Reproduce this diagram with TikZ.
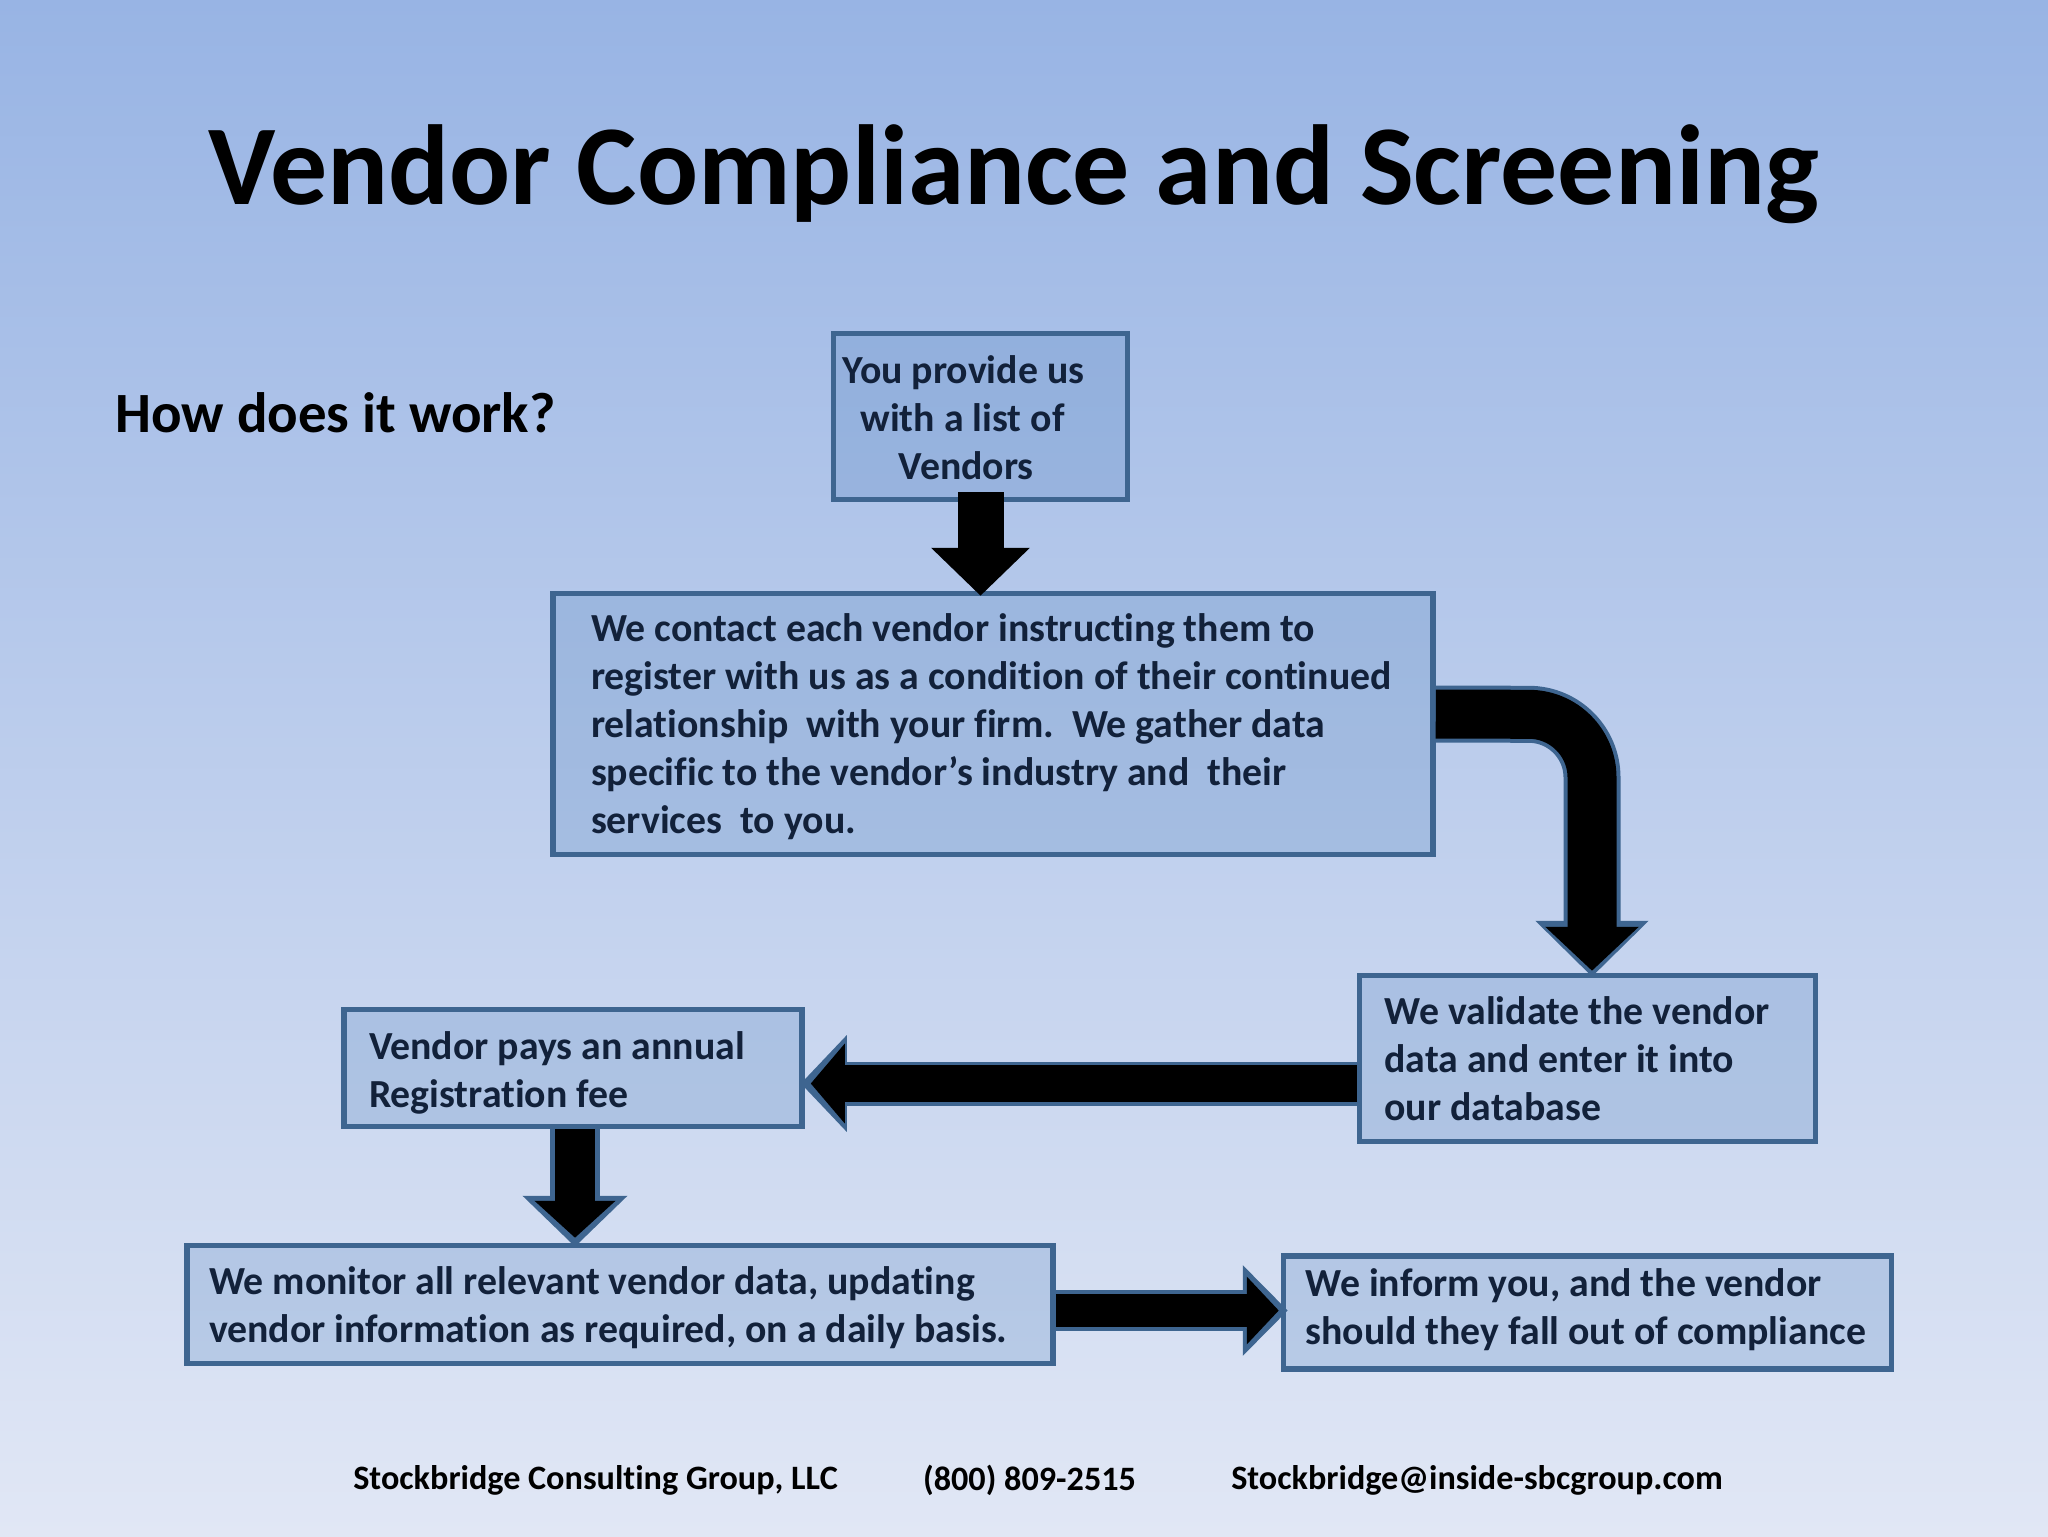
\documentclass[tikz,border=0pt]{standalone}
\usepackage{fontspec}
\setmainfont{Carlito}[Ligatures=NoCommon]
\usetikzlibrary{arrows.meta}
\definecolor{boxedge}{HTML}{3E6590}
\definecolor{boxfill}{HTML}{4F81BD}
\definecolor{boxtext}{HTML}{12213A}
\definecolor{pagetop}{RGB}{152,180,228}
\definecolor{pagemid}{RGB}{195,212,240}
\definecolor{pagelow}{RGB}{225,231,245}
\tikzset{
  stepbox/.style n args={4}{draw=boxedge, line width=2.75pt, fill=boxfill, fill opacity=.24,
    text opacity=1, text=boxtext, font=\bfseries\fontsize{19.9}{24}\selectfont, align=flush left,
    minimum height=#1, text width=#2, inner xsep=#3, execute at end node={\par\vspace*{-#4}}},
  pipeedge/.style n args={4}{boxedge, line width=#1, -{Triangle[length=#2,width=#3]}, shorten >=#4},
  pipecore/.style n args={4}{black, line width=#1, -{Triangle[length=#2,width=#3]}, shorten >=#4},
}
\begin{document}
\begin{tikzpicture}[x=.5pt,y=-.5pt]
  \shade[top color=pagetop, middle color=pagemid, bottom color=pagelow] (0,0) rectangle (2048,1536);
  \path
    (1014,174) node[font=\bfseries\fontsize{56.9}{68}\selectfont] (title){Vendor Compliance and Screening}
    (335.5,413) node[font=\bfseries\fontsize{28.45}{34}\selectfont] (how){How does it work?}
    (980.5,416.5) node[stepbox={83pt}{138pt}{4.5pt}{.8pt}] (list){You provide us\\\hspace*{9pt}with a list of\\\hspace*{28pt}Vendors}
    (993,724) node[stepbox={130.5pt}{402pt}{19pt}{2.6pt}] (contact){We contact each vendor instructing them to\\register with us as a condition of their continued\\relationship\ \ with your firm.\ \ We gather data\\specific to the vendor’s industry and\ \ their\\services\ \ to you.}
    (1587.5,1058.5) node[stepbox={83pt}{203pt}{12.5pt}{0pt}] (validate){We validate the vendor\\data and enter it into\\our database}
    (573,1068) node[stepbox={58.5pt}{204pt}{12.5pt}{4.6pt}] (fee){Vendor pays an annual\\Registration fee}
    (620,1304.5) node[stepbox={59pt}{411pt}{11pt}{3.2pt}] (monitor){We monitor all relevant vendor data, updating\\vendor information as required, on a daily basis.}
    (1587.5,1312.5) node[stepbox={56.5pt}{282pt}{11pt}{-2.6pt}] (inform){We inform you, and the vendor\\should they fall out of compliance}
    (595.5,1480) node[font=\bfseries\fontsize{17.1}{21}\selectfont] (firm){Stockbridge Consulting Group, LLC}
    (1029.5,1480) node[font=\bfseries\fontsize{17.1}{21}\selectfont] (phone){(800) 809-2515}
    (1477,1480) node[font=\bfseries\fontsize{17.1}{21}\selectfont] (mail){Stockbridge@inside-sbcgroup.com};
  \coordinate (bend) at (1592,714.5);
  \begin{scope}[rounded corners=31.5pt]
    \draw[pipeedge={28.5pt}{28pt}{55pt}{-2pt}] ([yshift=5pt]contact.east) -- (bend) -- (bend |- validate.north);
    \draw[pipecore={24.5pt}{22pt}{45.5pt}{1pt}] ([yshift=5pt]contact.east) -- (bend) -- (bend |- validate.north);
  \end{scope}
  \begin{scope}
    \draw[pipecore={23pt}{24pt}{48pt}{-2.5pt}, shorten <=-5pt] (list.south) to (list.south |- contact.north);
    \draw[pipeedge={22pt}{23pt}{47pt}{-2pt}] ([yshift=-12.5pt]validate.west) to ([yshift=-12.5pt]validate.west -| fee.east);
    \draw[pipecore={18.5pt}{17pt}{39pt}{3pt}] ([yshift=-12.5pt]validate.west) to ([yshift=-12.5pt]validate.west -| fee.east);
    \draw[pipeedge={25pt}{25.5pt}{51pt}{-2pt}] ([xshift=1pt]fee.south) to ([xshift=1pt]fee.south |- monitor.north);
    \draw[pipecore={20pt}{18.5pt}{39.5pt}{2.5pt}] ([xshift=1pt]fee.south) to ([xshift=1pt]fee.south |- monitor.north);
    \draw[pipeedge={20.5pt}{22.5pt}{44pt}{-3.5pt}] ([yshift=-3pt]monitor.east) to ([yshift=-3pt]monitor.east -| inform.west);
    \draw[pipecore={16.5pt}{16pt}{33pt}{1pt}] ([yshift=-3pt]monitor.east) to ([yshift=-3pt]monitor.east -| inform.west);
  \end{scope}
\end{tikzpicture}
\end{document}
